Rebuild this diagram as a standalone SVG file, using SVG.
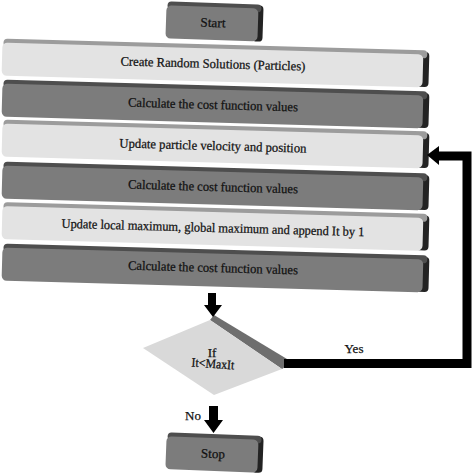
<svg xmlns="http://www.w3.org/2000/svg" width="474" height="476" viewBox="0 0 474 476">
<style>
.t{font-family:"Liberation Serif","Times New Roman",serif;font-size:13px;fill:#111;stroke:#111;stroke-width:0.25;text-anchor:middle}
.side{fill:#232323}
.topL{fill:#9c9c9c}
.topD{fill:#4e4e4e}
.faceL{fill:#e3e3e3}
.faceD{fill:#7c7c7c}
.arr{fill:#000}
</style>
<rect width="474" height="476" fill="#fff"/>
<g id="start" transform="rotate(1.9 213 22)">
<rect class="side" x="252" y="4" width="11" height="36" rx="4"/>
<rect class="topD" x="167" y="3" width="94" height="8" rx="4"/>
<rect class="faceD" x="166" y="7" width="92" height="33" rx="5"/>
<text class="t" x="213" y="27" textLength="25" lengthAdjust="spacingAndGlyphs">Start</text>
</g>
<g id="create" transform="rotate(1.6 213 63)">
<rect class="side" x="416" y="46" width="13" height="35" rx="4"/>
<rect class="topL" x="3" y="44.5" width="424" height="8" rx="4"/>
<rect class="faceL" x="2" y="48.5" width="421" height="33" rx="5"/>
<text class="t" x="213" y="68" textLength="185" lengthAdjust="spacingAndGlyphs">Create Random Solutions (Particles)</text>
</g>
<g id="calc1" transform="rotate(1.6 213 104)">
<rect class="side" x="416" y="87" width="13" height="35" rx="4"/>
<rect class="topD" x="3" y="85.5" width="424" height="8" rx="4"/>
<rect class="faceD" x="2" y="89.5" width="421" height="33" rx="5"/>
<text class="t" x="213" y="109" textLength="170" lengthAdjust="spacingAndGlyphs">Calculate the cost function values</text>
</g>
<g id="update1" transform="rotate(1.6 213 144)">
<rect class="side" x="416" y="127" width="13" height="35" rx="4"/>
<rect class="topL" x="3" y="125.5" width="424" height="8" rx="4"/>
<rect class="faceL" x="2" y="129.5" width="421" height="33" rx="5"/>
<text class="t" x="213" y="150" textLength="187" lengthAdjust="spacingAndGlyphs">Update particle velocity and position</text>
</g>
<g id="calc2" transform="rotate(1.6 213 186)">
<rect class="side" x="416" y="169" width="13" height="35" rx="4"/>
<rect class="topD" x="3" y="167.5" width="424" height="8" rx="4"/>
<rect class="faceD" x="2" y="171.5" width="421" height="33" rx="5"/>
<text class="t" x="213" y="191" textLength="170" lengthAdjust="spacingAndGlyphs">Calculate the cost function values</text>
</g>
<g id="update2" transform="rotate(1.6 213 226.5)">
<rect class="side" x="416" y="209.5" width="13" height="35" rx="4"/>
<rect class="topL" x="3" y="208" width="424" height="8" rx="4"/>
<rect class="faceL" x="2" y="212" width="421" height="33" rx="5"/>
<text class="t" x="213" y="232" textLength="303" lengthAdjust="spacingAndGlyphs">Update local maximum, global maximum and append It by 1</text>
</g>
<g id="calc3" transform="rotate(1.6 213 268)">
<rect class="side" x="416" y="251" width="13" height="35" rx="4"/>
<rect class="topD" x="3" y="249.5" width="424" height="8" rx="4"/>
<rect class="faceD" x="2" y="253.5" width="421" height="33" rx="5"/>
<text class="t" x="213" y="272" textLength="170" lengthAdjust="spacingAndGlyphs">Calculate the cost function values</text>
</g>
<g id="decision">
<polygon points="214,315 292,362 282,369 210,320" fill="#6e6e6e"/>
<polygon points="210,320 282,369 214,395 143,348" fill="#d9d9d9"/>
<text class="t" x="212" y="357" font-size="12.5">If</text>
<text class="t" x="213" y="368" font-size="12.5" textLength="43" lengthAdjust="spacingAndGlyphs" transform="rotate(4 213 363)">It&lt;MaxIt</text>
</g>
<g id="stop" transform="rotate(2.2 213 453)">
<rect class="side" x="252" y="435" width="11" height="36" rx="4"/>
<rect class="topD" x="167" y="434" width="94" height="8" rx="4"/>
<rect class="faceD" x="166" y="438" width="92" height="33" rx="5"/>
<text class="t" x="213" y="458" textLength="24" lengthAdjust="spacingAndGlyphs">Stop</text>
</g>
<g id="connectors">
<polygon class="arr" points="208,293 216,293 216,305 222,305 213,317 204,305 208,305"/>
<path d="M284 363.5 H467 V156 H436" fill="none" stroke="#000" stroke-width="9"/>
<polygon class="arr" points="427,155 439,146 439,165"/>
<polygon class="arr" points="209,406 218,406 218,420 223,420 213.5,433 204,420 209,420"/>
<text class="t" x="354" y="353" font-size="13.5">Yes</text>
<text class="t" x="193" y="420" font-size="13.5">No</text>
</g>
</svg>
